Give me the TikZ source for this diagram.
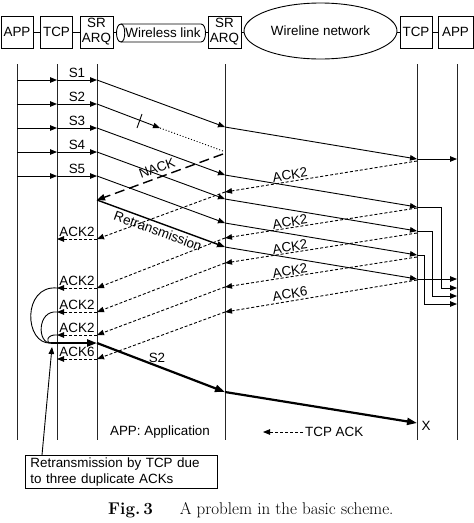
\documentclass[tikz,border=0pt]{standalone}
\usepackage{fontspec}
\newfontfamily\dgfont{Liberation Sans}
\usetikzlibrary{arrows.meta,shapes.geometric}
\begin{document}
\begin{tikzpicture}[x=1pt,y=-1pt,
  every node/.style={font=\dgfont\fontsize{13.4}{15}\selectfont},
  life/.style={line width=0.9pt, draw=black!85},
  ln/.style={line width=0.9pt},
  msg/.style={line width=0.9pt, -{Triangle[length=7pt,width=5.5pt]}},
  ack/.style={line width=0.9pt, dash pattern=on 3pt off 2pt, -{Triangle[length=7pt,width=5.5pt]}},
  nack/.style={line width=1.4pt, dash pattern=on 10pt off 5pt, -{Triangle[length=8pt,width=6.5pt]}},
  retr/.style={line width=1.4pt, -{Triangle[length=8pt,width=6pt]}},
  thickmsg/.style={line width=2.2pt, -{Triangle[length=10pt,width=7pt]}},
  lbl/.style={inner sep=1.5pt},
  box/.style={draw, line width=0.9pt, minimum width=32, minimum height=32, inner sep=0pt, align=center}]
\useasboundingbox (0,0) rectangle (474,523);

% top entities
\node[box] (appL) at (17,32) {APP};
\node[box] (tcpL) at (56.5,32) {TCP};
\node[box, minimum width=33] (arqL) at (96.5,32) {SR\\ARQ};
\node[box, minimum width=33] (arqR) at (224.5,32) {SR\\ARQ};
\node[draw, ellipse, line width=0.9pt, minimum width=153, minimum height=56, inner sep=0pt] (wn) at (320.5,31) {Wireline network};
\node[box] (tcpR) at (416,32) {TCP};
\node[box, minimum width=35] (appR) at (455.5,32) {APP};
% wireless link (horizontal cylinder)
\node[inner sep=0pt] (wl) at (163,33) {Wireless link};
\draw[ln] (121,24) -- (201,24) .. controls (207,24) and (207,42) .. (201,42) -- (121,42)
          .. controls (115,42) and (115,24) .. (121,24);
\draw[ln] (121,24) .. controls (126,24) and (126,42) .. (121,42);
\coordinate (wlw) at (115.5,32);
\coordinate (wle) at (205.5,32);
\draw[ln] (appL) -- (tcpL);
\draw[ln] (tcpL) -- (arqL);
\draw[ln] (arqL.east) -- (wlw);
\draw[ln] (wle) -- (arqR.west);
\draw[ln] (arqR.east) -- (arqR.east -| wn.west);
\draw[ln] (tcpR.west -| wn.east) -- (tcpR.west);
\draw[ln] (tcpR) -- (appR);

% lifelines
\foreach \n/\x in {1/17,2/57,3/97,4/225,5/417,6/457}{
  \coordinate (top\n) at (\x,64);
  \coordinate (bot\n) at (\x,440);
  \draw[life] (top\n) -- (bot\n);
}

% segments from APP to SR ARQ
\foreach \i/\y in {1/80,2/104,3/128,4/152,5/176}{
  \coordinate (a\i) at (17,\y);
  \coordinate (b\i) at (57,\y);
  \coordinate (c\i) at (97,\y);
  \draw[msg] (a\i) -- (b\i);
  \draw[msg] (b\i) -- node[lbl, above]{S\i} (c\i);
}

% S1
\coordinate (s1d) at (225,127);
\coordinate (s1e) at (417,159);
\coordinate (s1f) at (457,159);
\draw[msg] (c1) -- (s1d);
\draw[msg] (s1d) -- (s1e);
\draw[msg] (s1e) -- (s1f);
% S2 (lost)
\coordinate (s2x) at (160,128);
\coordinate (s2d) at (223,151);
\draw[msg] (c2) -- (s2x);
\draw[ln, dash pattern=on 1pt off 2pt] (s2x) -- (s2d);
\coordinate (sl1) at (137,128);
\coordinate (sl2) at (142,114);
\draw[ln] (sl1) -- (sl2);
% S3
\coordinate (s3d) at (225,175);
\coordinate (s3e) at (417,207);
\coordinate (s3k) at (441,288);
\coordinate (s3f) at (457,288);
\draw[msg] (c3) -- (s3d);
\draw[msg] (s3d) -- (s3e);
\draw[msg] (s3e) -| (s3k) -- (s3f);
% S4
\coordinate (s4d) at (225,199);
\coordinate (s4e) at (417,231);
\coordinate (s4k) at (432,296);
\coordinate (s4f) at (457,296);
\draw[msg] (c4) -- (s4d);
\draw[msg] (s4d) -- (s4e);
\draw[msg] (s4e) -| (s4k) -- (s4f);
% S5
\coordinate (s5d) at (225,223);
\coordinate (s5e) at (417,255);
\coordinate (s5k) at (424,304);
\coordinate (s5f) at (457,304);
\draw[msg] (c5) -- (s5d);
\draw[msg] (s5d) -- (s5e);
\draw[msg] (s5e) -| (s5k) -- (s5f);

% NACK and retransmission
\coordinate (nk) at (223,154);
\coordinate (rc) at (97,200);
\coordinate (rd) at (225,247);
\coordinate (re) at (417,279);
\coordinate (rf) at (457,279);
\draw[nack] (nk) -- (rc);
\node[rotate=20, inner sep=0pt] (nacklbl) at (157,168) {NACK};
\draw[retr] (rc) -- (rd);
\node[rotate=-20, inner sep=0pt] (retrlbl) at (158,231) {Retransmission};
\draw[msg] (rd) -- (re);
\draw[msg] (re) -- (rf);

% TCP ACKs
\foreach \i/\ya/\yb/\yc/\t in {1/161/192/239/ACK2,2/208/238/288/ACK2,3/233/263/312/ACK2,4/257/287/335/ACK2,5/280/312/359/ACK6}{
  \coordinate (ke\i) at (417,\ya);
  \coordinate (kd\i) at (225,\yb);
  \coordinate (kc\i) at (97,\yc);
  \coordinate (kb\i) at (57,\yc);
  \draw[ack] (ke\i) -- (kd\i);
  \draw[ack] (kd\i) -- (kc\i);
  \draw[ack] (kc\i) -- node[lbl, above]{\t} (kb\i);
  \node[rotate=9, inner sep=0pt] at (290,{\ya+14}) {\t};
}

% three duplicate ACKs -> retransmission by TCP
\coordinate (mrg) at (51,343);
\draw[ln] (kb2) .. controls (22,285) and (24,345) .. (mrg);
\draw[ln] (kb3) .. controls (37,310) and (37,344) .. (mrg);
\draw[ln] (kb4) .. controls (47,334) and (45,343) .. (mrg);
\coordinate (t3) at (97,343);
\coordinate (t4) at (225,392);
\coordinate (t5) at (417,423);
\draw[thickmsg] (mrg) -- (t3);
\draw[thickmsg] (t3) -- (t4);
\node[inner sep=0pt] (s2lbl) at (157,358) {S2};
\draw[thickmsg] (t4) -- (t5);
\node[inner sep=0pt] (xlbl) at (426,426) {X};

% legend
\node[inner sep=0pt] (applbl) at (160,432) {APP: Application};
\coordinate (lg1) at (303,432);
\coordinate (lg2) at (263,432);
\draw[ack] (lg1) -- (lg2);
\node[anchor=west, inner sep=1pt] (acklbl) at (304,432) {TCP ACK};

% callout
\node[draw, line width=0.9pt, anchor=north west, minimum width=192, minimum height=33,
      text width=182, align=left, inner xsep=5pt, inner ysep=2pt,
      font=\dgfont\fontsize{13.4}{16}\selectfont] (call) at (25,455)
      {Retransmission by TCP due\\to three duplicate ACKs};
\coordinate (cl) at (42,455);
\coordinate (ct) at (52,347);
\draw[msg] (cl) -- (ct);

% caption
\node[anchor=west, inner sep=0pt, font=\fontsize{17}{19}\selectfont] (cap) at (108,510)
  {\textbf{Fig.\,3}\hspace{27pt}A problem in the basic scheme.};
\end{tikzpicture}
\end{document}
